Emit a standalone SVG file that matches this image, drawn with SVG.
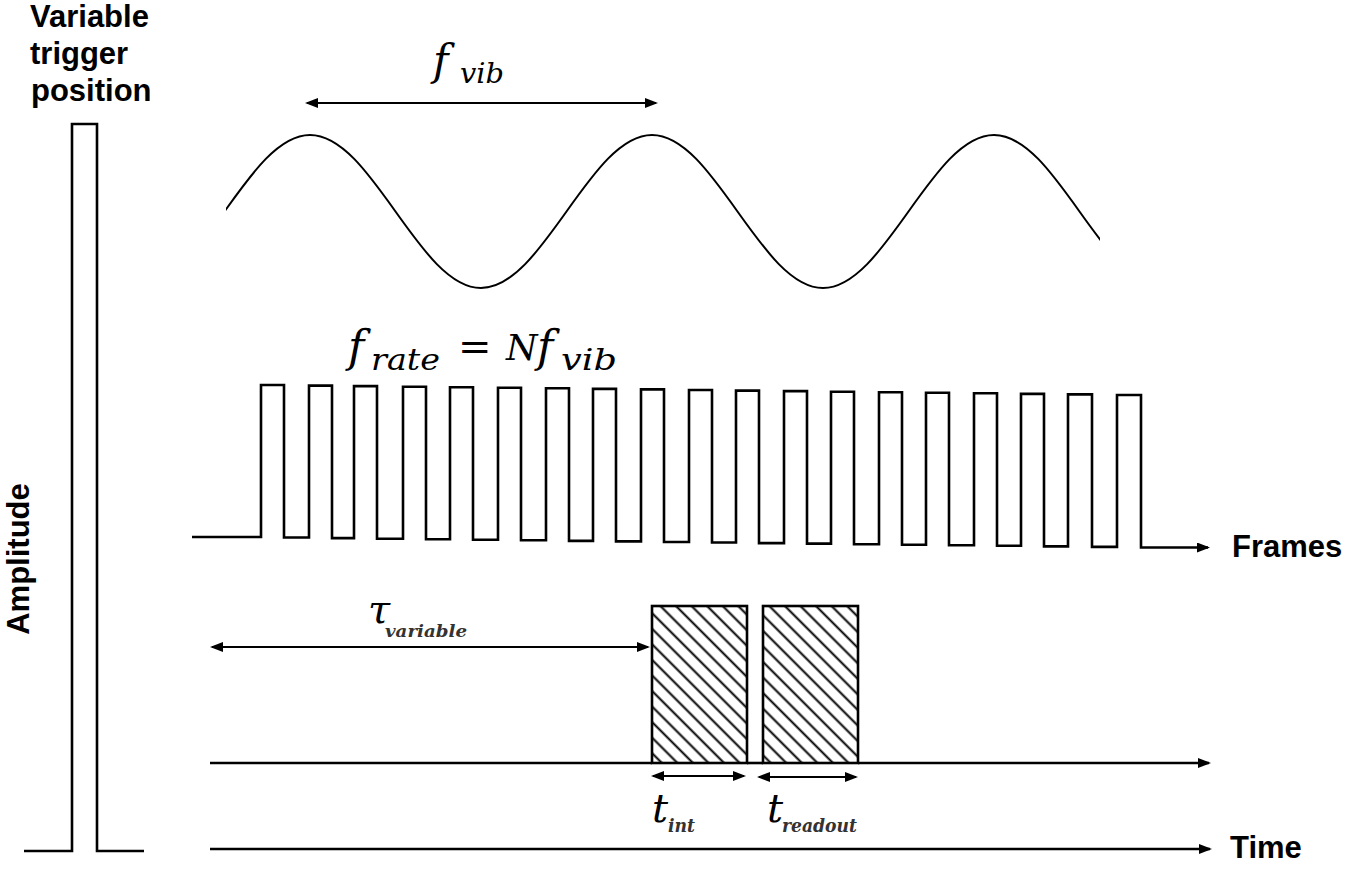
<svg xmlns="http://www.w3.org/2000/svg" width="1355" height="870" viewBox="0 0 1355 870">
<style>
.ln{fill:none;stroke:#000;stroke-width:2.6;stroke-linejoin:miter}
.thin{fill:none;stroke:#000;stroke-width:2}
.lbl{font-family:"Liberation Sans",Arial,sans-serif;font-weight:bold;font-size:31px;fill:#000}
.m{font-family:"DejaVu Serif",serif;font-style:italic;fill:#000}
.sb{font-family:"DejaVu Serif",serif;font-style:italic;font-weight:bold;fill:#333}
.dbl{fill:none;stroke:#000;stroke-width:2.2;marker-start:url(#ah);marker-end:url(#ah)}
.one{marker-end:url(#ah)}
</style>
<defs>
<marker id="ah" markerUnits="userSpaceOnUse" markerWidth="14" markerHeight="12" refX="11" refY="5" orient="auto-start-reverse">
<path d="M0,0 L13,5 L0,10 z" fill="#000"/>
</marker>
<pattern id="hatch" width="11" height="11" patternUnits="userSpaceOnUse" patternTransform="rotate(-45)">
<line x1="5.5" y1="-1" x2="5.5" y2="12" stroke="#000" stroke-width="2"/>
</pattern>
<clipPath id="sclip"><rect x="226" y="100" width="874" height="200"/></clipPath>
</defs>
<rect width="1355" height="870" fill="#fff"/>

<g id="trigger-label">
<text class="lbl" x="30" y="27">Variable</text>
<text class="lbl" x="30" y="64">trigger</text>
<text class="lbl" x="31" y="101">position</text>
</g>

<g id="trigger-pulse">
<path class="ln" d="M24,851 H72 V124 H97 V851 H144"/>
</g>

<g id="amplitude-label">
<text class="lbl" text-anchor="middle" transform="translate(29,559) rotate(-90)">Amplitude</text>
</g>

<g id="vibration">
<path class="thin" clip-path="url(#sclip)" d="M139,288 C201.1,288 247.9,135 310,135 C372.1,135 418.9,288 481,288 C543.1,288 589.9,135 652,135 C714.1,135 760.9,288 823,288 C885.1,288 931.9,135 994,135 C1056.1,135 1102.9,288 1165,288"/>
<text class="m" x="433" y="75" font-size="42">f</text>
<text class="m" x="460" y="83" font-size="28" textLength="44" lengthAdjust="spacingAndGlyphs">vib</text>
</g>

<g id="frames">
<text class="m" x="348" y="362" font-size="44">f</text>
<text class="m" x="371" y="370" font-size="30" textLength="69" lengthAdjust="spacingAndGlyphs">rate</text>
<text x="458" y="360" font-size="40" font-family="DejaVu Serif,serif" fill="#000">=</text>
<text class="m" x="506" y="360" font-size="36">N</text>
<text class="m" x="537" y="362" font-size="44">f</text>
<text class="m" x="561" y="370" font-size="30" textLength="56" lengthAdjust="spacingAndGlyphs">vib</text>
<text class="lbl" x="1232" y="557">Frames</text>
</g>

<g id="exposure">
<rect x="652" y="606" width="95" height="157" fill="url(#hatch)" stroke="#000" stroke-width="2.6"/>
<rect x="763" y="606" width="95" height="157" fill="url(#hatch)" stroke="#000" stroke-width="2.6"/>
<text class="m" x="368" y="623" font-size="40">τ</text>
<text class="sb" x="385" y="637" font-size="17" textLength="82" lengthAdjust="spacingAndGlyphs">variable</text>
<text class="m" x="652" y="822" font-size="40">t</text>
<text class="sb" x="668" y="832" font-size="18" textLength="27" lengthAdjust="spacingAndGlyphs">int</text>
<text class="m" x="767" y="822" font-size="40">t</text>
<text class="sb" x="782" y="832" font-size="18" textLength="75" lengthAdjust="spacingAndGlyphs">readout</text>
<text class="lbl" x="1230" y="858">Time</text>
</g>

<g id="connectors">
<path class="ln one" d="M192,537 H261 V385 H284 V537.5 H309 V385.6 H332 V538.1 H354 V386.1 H377 V538.7 H403 V386.7 H426 V539.2 H450 V387.2 H473 V539.8 H498 V387.8 H521 V540.3 H546 V388.3 H569 V540.9 H593 V388.9 H616 V541.4 H641 V389.4 H664 V542 H689 V390 H712 V542.5 H736 V390.6 H759 V543.1 H784 V391.1 H807 V543.6 H831 V391.7 H854 V544.2 H879 V392.2 H902 V544.7 H926 V392.8 H949 V545.3 H974 V393.3 H997 V545.8 H1021 V393.9 H1044 V546.4 H1068 V394.4 H1092 V546.9 H1117 V395 H1141 V547.5 H1208"/>
<path class="ln" d="M210,763 H652"/>
<path class="ln" d="M747,763 H763"/>
<path class="ln one" d="M858,763 H1209"/>
<path class="ln one" d="M210,849 H1210"/>
<path class="dbl" d="M307,103 H656"/>
<path class="dbl" d="M212,647 H648"/>
<path class="dbl" d="M653,776 H744"/>
<path class="dbl" d="M759,777 H856"/>
</g>
</svg>
